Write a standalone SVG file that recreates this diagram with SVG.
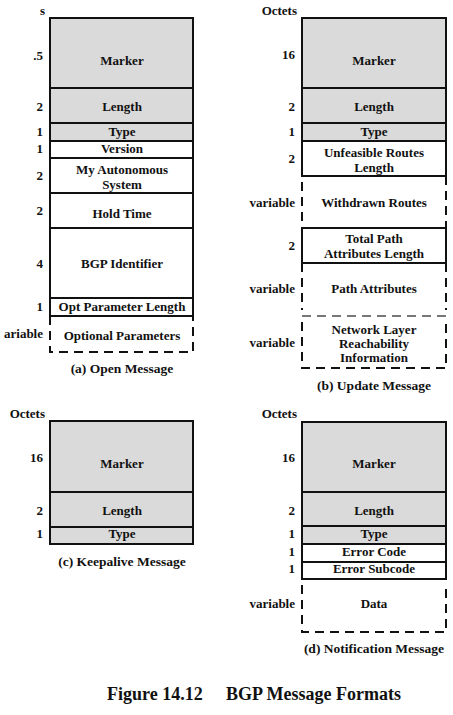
<svg xmlns="http://www.w3.org/2000/svg" width="453" height="715" viewBox="0 0 453 715">
<style>
text{font-family:"Liberation Serif","Times New Roman",serif;font-weight:bold;font-size:13px;fill:#111}
.c{text-anchor:middle}
.r{text-anchor:end}
.g{fill:#dadada;stroke:#111;stroke-width:2}
.w{fill:#fff;stroke:#111;stroke-width:2}
.d{fill:none;stroke:#111;stroke-width:2;stroke-dasharray:9,6}
.dg{fill:none;stroke:#777;stroke-width:2;stroke-dasharray:9,6}
.cap{font-size:13.5px}
.fig{font-size:18px}
</style>
<rect width="453" height="715" fill="#fff"/>

<!-- (a) Open Message -->
<g id="open">
<text class="r" x="45" y="15">s</text>
<text class="r" x="43" y="60" fill="#555">.5</text>
<rect class="g" x="50" y="18" width="143" height="70"/>
<rect class="g" x="50" y="88" width="143" height="35"/>
<rect class="g" x="50" y="123" width="143" height="18"/>
<rect class="w" x="50" y="141" width="143" height="17"/>
<rect class="w" x="50" y="158" width="143" height="35"/>
<rect class="w" x="50" y="193" width="143" height="35"/>
<rect class="w" x="50" y="228" width="143" height="70"/>
<rect class="w" x="50" y="298" width="143" height="18"/>
<path class="d" d="M50,316V352H193V316"/>
<text class="c" x="122" y="65">Marker</text>
<text class="c" x="122" y="111">Length</text>
<text class="c" x="122" y="136">Type</text>
<text class="c" x="122" y="153">Version</text>
<text class="c" x="122" y="174">My Autonomous</text>
<text class="c" x="122" y="189">System</text>
<text class="c" x="122" y="218">Hold Time</text>
<text class="c" x="122" y="268">BGP Identifier</text>
<text class="c" x="122" y="311">Opt Parameter Length</text>
<text class="c" x="122" y="340">Optional Parameters</text>
<text class="r" x="43" y="111">2</text>
<text class="r" x="43" y="136">1</text>
<text class="r" x="43" y="153">1</text>
<text class="r" x="43" y="180">2</text>
<text class="r" x="43" y="215">2</text>
<text class="r" x="43" y="268">4</text>
<text class="r" x="43" y="311">1</text>
<text class="r" x="43" y="338">ariable</text>
<text class="c cap" x="122" y="373">(a) Open Message</text>
</g>

<!-- (b) Update Message -->
<g id="update">
<text class="r" x="297" y="15">Octets</text>
<rect class="g" x="302" y="18" width="144" height="70"/>
<rect class="g" x="302" y="88" width="144" height="35"/>
<rect class="g" x="302" y="123" width="144" height="18"/>
<rect class="w" x="302" y="141" width="144" height="35"/>
<path class="d" d="M302,182V228M446,176V228"/>
<rect class="w" x="302" y="228" width="144" height="35"/>
<path class="d" d="M302,263V310M446,263V310"/>
<path class="dg" d="M302,316H446"/>
<path class="d" d="M302,322V368H446V322"/>
<text class="c" x="374" y="157">Unfeasible Routes</text>
<text class="c" x="374" y="172">Length</text>
<text class="c" x="374" y="65">Marker</text>
<text class="c" x="374" y="111">Length</text>
<text class="c" x="374" y="136">Type</text>
<text class="c" x="374" y="207">Withdrawn Routes</text>
<text class="c" x="374" y="243">Total Path</text>
<text class="c" x="374" y="258">Attributes Length</text>
<text class="c" x="374" y="293">Path Attributes</text>
<text class="c" x="374" y="334">Network Layer</text>
<text class="c" x="374" y="348">Reachability</text>
<text class="c" x="374" y="362">Information</text>
<text class="r" x="295" y="59">16</text>
<text class="r" x="295" y="111">2</text>
<text class="r" x="295" y="136">1</text>
<text class="r" x="295" y="163">2</text>
<text class="r" x="295" y="207">variable</text>
<text class="r" x="295" y="250">2</text>
<text class="r" x="295" y="293">variable</text>
<text class="r" x="295" y="347">variable</text>
<text class="c cap" x="374" y="390">(b) Update Message</text>
</g>

<!-- (c) Keepalive Message -->
<g id="keepalive">
<text class="r" x="45" y="418">Octets</text>
<rect class="g" x="50" y="421" width="143" height="71"/>
<rect class="g" x="50" y="492" width="143" height="35"/>
<rect class="g" x="50" y="527" width="143" height="17"/>
<text class="c" x="122" y="468">Marker</text>
<text class="c" x="122" y="515">Length</text>
<text class="c" x="122" y="538">Type</text>
<text class="r" x="43" y="462">16</text>
<text class="r" x="43" y="515">2</text>
<text class="r" x="43" y="538">1</text>
<text class="c cap" x="122" y="566">(c) Keepalive Message</text>
</g>

<!-- (d) Notification Message -->
<g id="notification">
<text class="r" x="297" y="418">Octets</text>
<rect class="g" x="302" y="422" width="144" height="70"/>
<rect class="g" x="302" y="492" width="144" height="34"/>
<rect class="g" x="302" y="526" width="144" height="18"/>
<rect class="w" x="302" y="544" width="144" height="18"/>
<rect class="w" x="302" y="562" width="144" height="17"/>
<path class="d" d="M302,585V632H446V585"/>
<text class="c" x="374" y="468">Marker</text>
<text class="c" x="374" y="515">Length</text>
<text class="c" x="374" y="538">Type</text>
<text class="c" x="374" y="556">Error Code</text>
<text class="c" x="374" y="573">Error Subcode</text>
<text class="c" x="374" y="608">Data</text>
<text class="r" x="295" y="462">16</text>
<text class="r" x="295" y="515">2</text>
<text class="r" x="295" y="538">1</text>
<text class="r" x="295" y="556">1</text>
<text class="r" x="295" y="573">1</text>
<text class="r" x="295" y="608">variable</text>
<text class="c cap" x="374" y="653">(d) Notification Message</text>
</g>

<g id="caption">
<text class="fig" x="107" y="700">Figure 14.12</text>
<text class="fig" x="226" y="700">BGP Message Formats</text>
</g>
</svg>
